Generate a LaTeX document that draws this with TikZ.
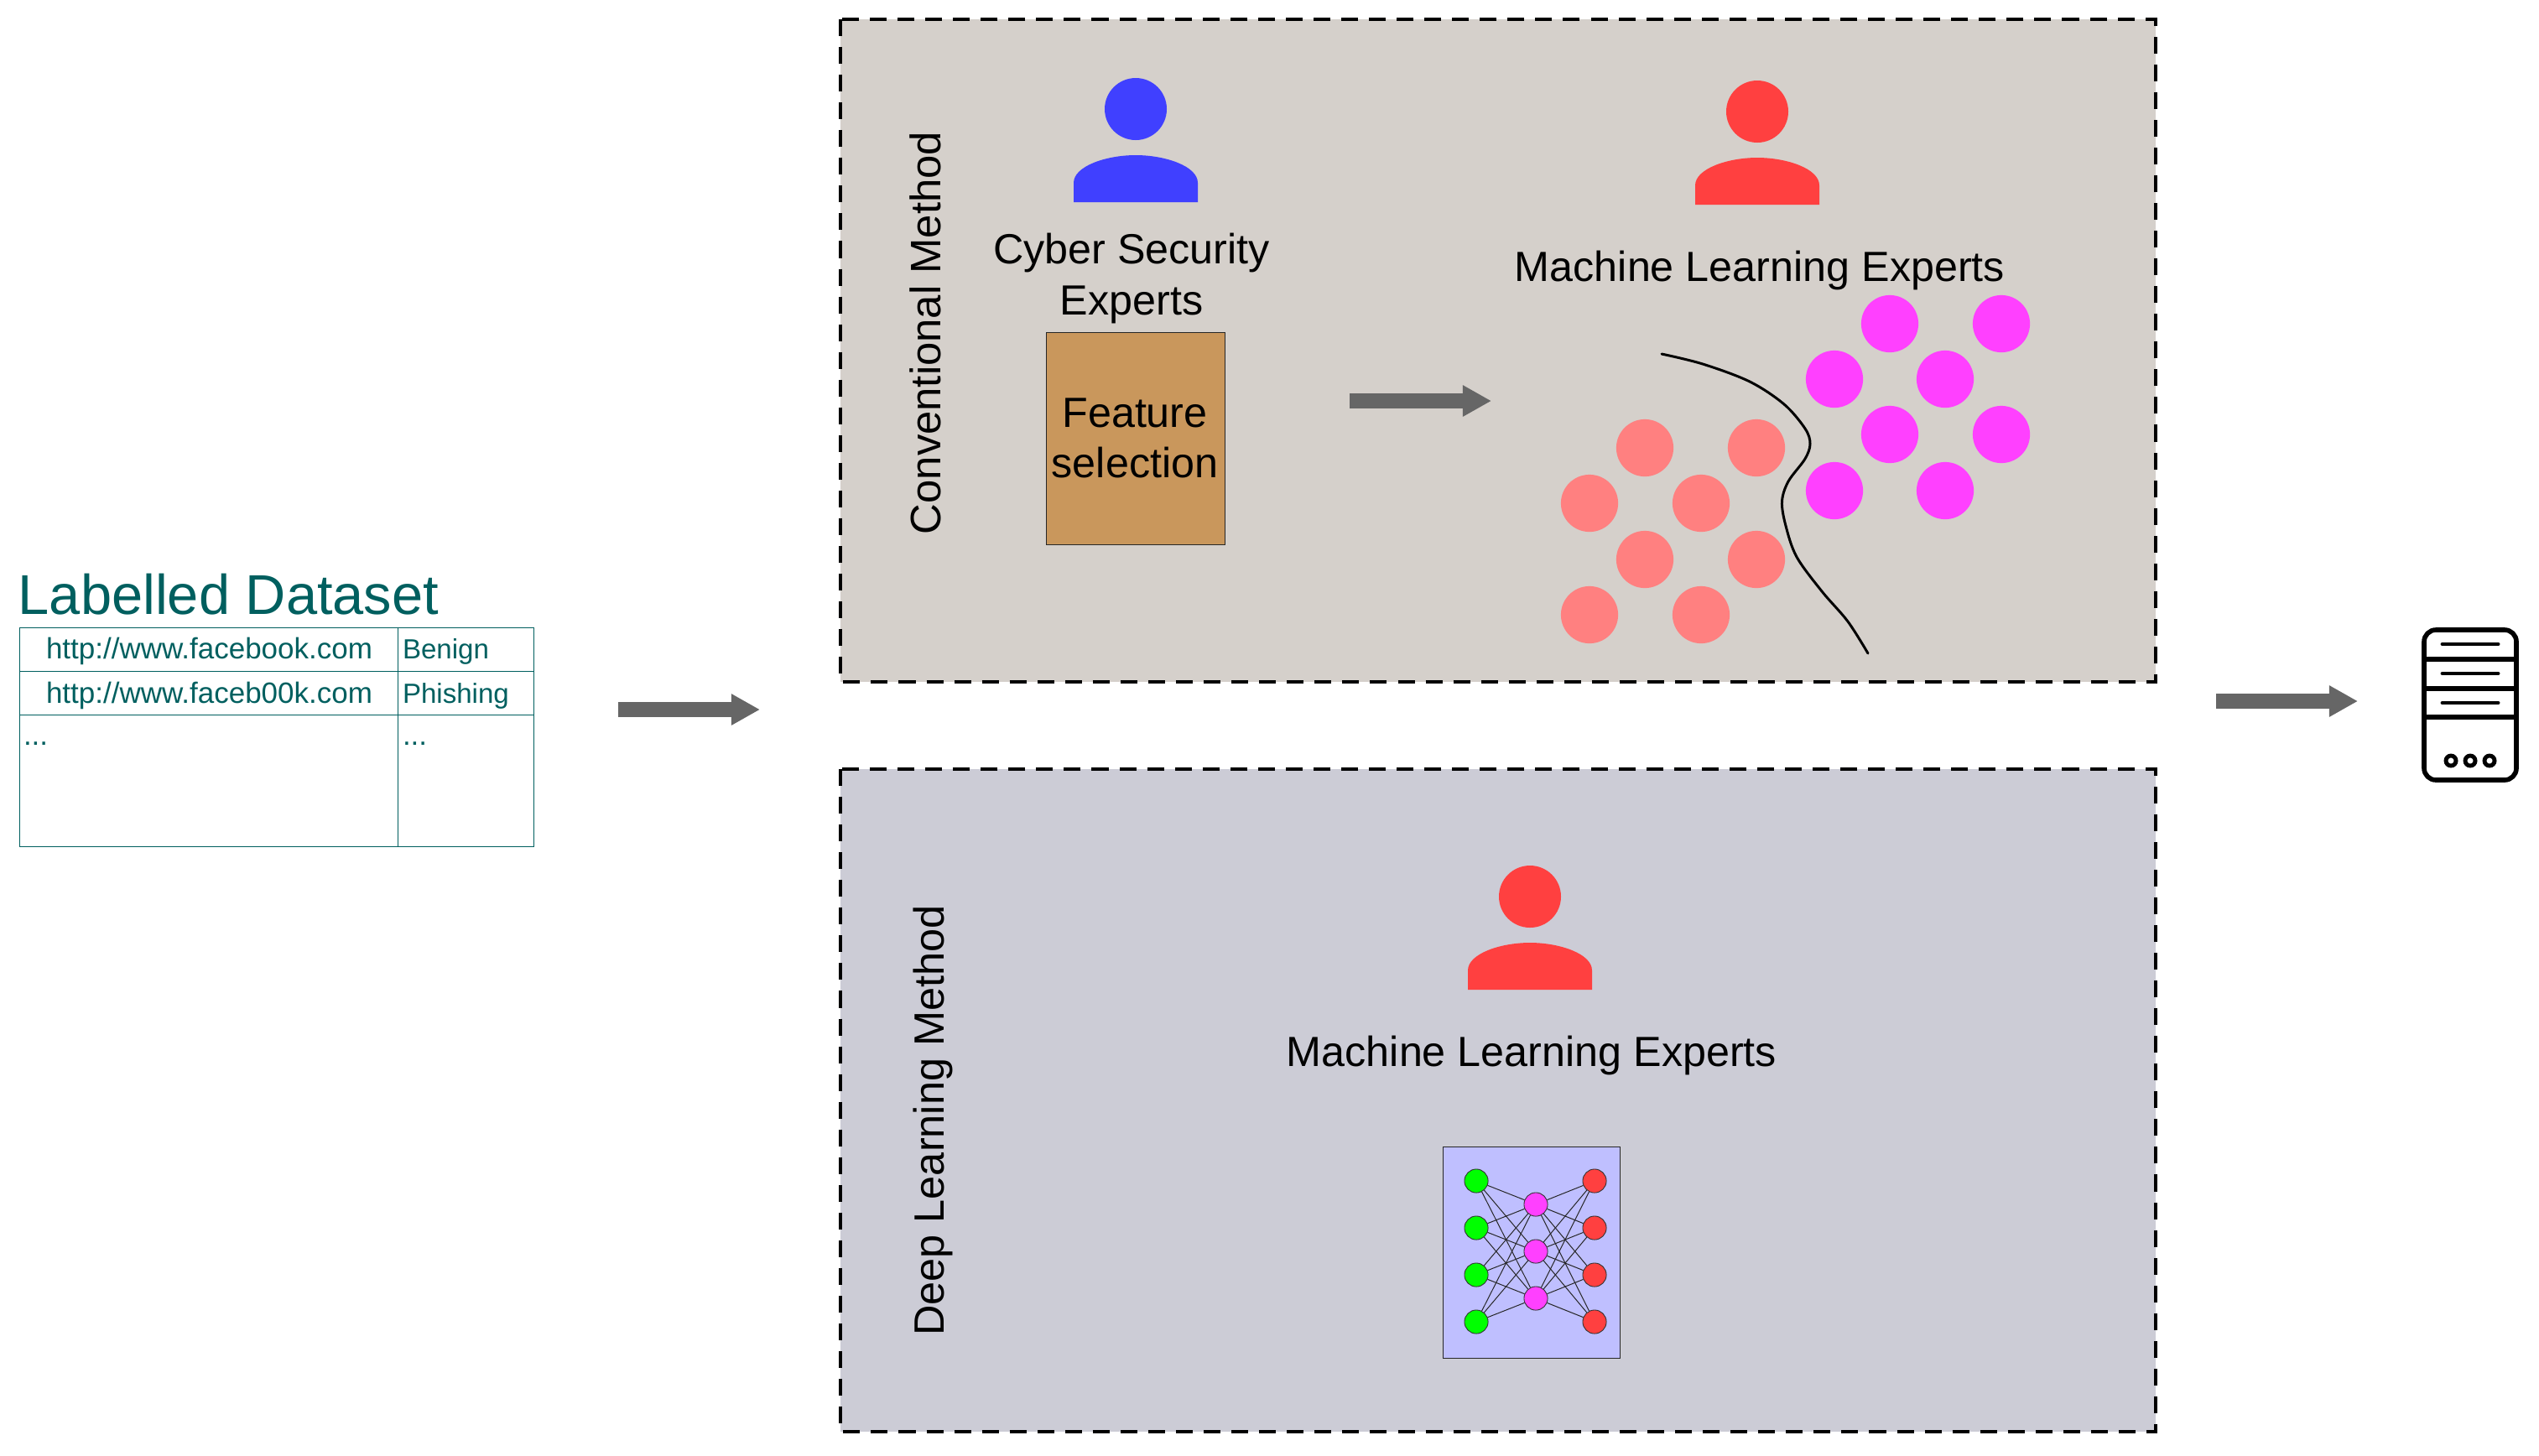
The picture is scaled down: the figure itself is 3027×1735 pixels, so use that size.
\documentclass[tikz,border=0pt]{standalone}
\usepackage{fontspec}
\setmainfont{Liberation Sans}
\usetikzlibrary{arrows.meta}
\definecolor{teal1}{HTML}{005F5F}
\definecolor{blueP}{HTML}{4040FF}
\definecolor{redP}{HTML}{FF4040}
\definecolor{magP}{HTML}{FF40FF}
\definecolor{pinkP}{HTML}{FF8080}
\definecolor{panelA}{HTML}{D5D0CB}
\definecolor{panelB}{HTML}{CCCCD6}
\definecolor{boxF}{HTML}{C9975C}
\definecolor{boxN}{HTML}{BFBFFF}
\definecolor{arrowG}{HTML}{666666}
\tikzset{
  x=0.01cm,y=-0.01cm,
  txt/.style={inner sep=0pt,outer sep=0pt,font=\fontsize{14.3}{17}\selectfont},
  tabtxt/.style={inner sep=0pt,outer sep=0pt,anchor=base west,text=teal1,font=\fontsize{9.95}{12}\selectfont},
  tablab/.style={inner sep=0pt,outer sep=0pt,anchor=base west,text=teal1,font=\fontsize{9.4}{12}\selectfont},
  panel/.style={draw=black,line width=1.3pt,dash pattern=on 5.7pt off 3.7pt},
  bigarrow/.style={draw=arrowG,line width=4.9pt,-{Triangle[length=9.7pt,width=10pt,color=arrowG]}},
  tabline/.style={draw=teal1,line width=0.22pt},
  blob/.style={circle,inner sep=0pt,minimum size=19.4pt,fill=#1},
  nn/.style={circle,inner sep=0pt,minimum size=8pt,draw=black!80,line width=0.25pt,fill=#1},
  nnedge/.style={draw=black!85,line width=0.28pt},
  thinbox/.style={draw=black!85,line width=0.2pt,fill=#1},
  srv/.style={draw=black,line width=1.6pt},
  pics/person/.style={code={
    \fill[#1] (0,0) circle[radius=37];
    \fill[#1] (-74,111) -- (-74,88) .. controls (-74,68) and (-35,55) .. (0,55)
      .. controls (35,55) and (74,68) .. (74,88) -- (74,111) -- cycle;
  }}
}
\begin{document}
\begin{tikzpicture}
\useasboundingbox (0,0) rectangle (3027,1735);
% panels
\path[fill=panelA,panel] (1002,23) rectangle (2570,813);
\path[fill=panelB,panel] (1002,917) rectangle (2570,1707);
\node[txt,rotate=90,anchor=base,font=\fontsize{14.45}{17}\selectfont] (convT) at (1121,397) {Conventional Method};
\node[txt,rotate=90,anchor=base,font=\fontsize{14.35}{17}\selectfont] (deepT) at (1125,1336) {Deep Learning Method};
% dataset
\node[inner sep=0pt,anchor=base west,text=teal1,font=\fontsize{19}{22}\selectfont] (dataT) at (21,732) {Labelled Dataset};
\draw[tabline] (23,748) rectangle (636,1009);
\draw[tabline] (474.5,748) -- (474.5,1009);
\draw[tabline] (23,800) -- (636,800);
\draw[tabline] (23,852) -- (636,852);
\node[tabtxt] (u1) at (55,785) {http://www.facebook.com};
\node[tablab] (l1) at (480,785) {Benign};
\node[tabtxt] (u2) at (55,838) {http://www.faceb00k.com};
\node[tablab] (l2) at (480,838) {Phishing};
\node[tabtxt] (u3) at (28,888) {...};
\node[tabtxt] (l3) at (480,888) {...};
% arrows
\coordinate (a1s) at (737,846); \coordinate (a1e) at (906,846);
\coordinate (a2s) at (1609,478); \coordinate (a2e) at (1778,478);
\coordinate (a3s) at (2642,836); \coordinate (a3e) at (2811,836);
\draw[bigarrow] (a1s) -- (a1e);
\draw[bigarrow] (a2s) -- (a2e);
\draw[bigarrow] (a3s) -- (a3e);
% persons
\pic at (1354,130) {person=blueP};
\pic at (2095,133) {person=redP};
\pic at (1824,1069) {person=redP};
\node[txt,align=center,anchor=base] (cyb) at (1349,375) {Cyber Security\\[0.3pt]Experts};
\node[txt,anchor=base] (ml1) at (2098,335) {Machine Learning Experts};
\node[txt,anchor=base] (ml2) at (1826,1271) {Machine Learning Experts};
% feature box
\draw[thinbox=boxF] (1247,396) rectangle (1460,649);
\node[txt,align=center,anchor=base] (feat) at (1353,569) {Feature\\selection};
% clusters
\foreach \n/\x/\y in {a/2253/386,b/2386/386,c/2187/452,d/2319/452,e/2253/518,f/2386/518,g/2187/585,h/2319/585}
  \node[blob=magP] (m\n) at (\x,\y) {};
\foreach \n/\x/\y in {a/1961/534,b/2094/534,c/1895/600,d/2028/600,e/1961/667,f/2094/667,g/1895/733,h/2028/733}
  \node[blob=pinkP] (p\n) at (\x,\y) {};
\draw[line width=0.85pt,line cap=round] plot[smooth,tension=0.55] coordinates {(1981,422) (2030,434) (2086,455) (2127,482) (2152,511) (2158,529) (2152,547) (2132,574) (2124.5,598) (2129,627) (2142,664) (2172,705) (2203,741) (2227,779)};
% neural net
\draw[thinbox=boxN] (1720,1367) rectangle (1931,1619);
\foreach \i/\y in {1/1408,2/1464,3/1520,4/1576}{
  \node[nn=green] (g\i) at (1760,\y) {};
  \node[nn=redP] (r\i) at (1901,\y) {};
}
\foreach \i/\y in {1/1436,2/1492,3/1548}
  \node[nn=magP] (h\i) at (1831,\y) {};
\foreach \i in {1,2,3,4}\foreach \j in {1,2,3}{
  \draw[nnedge] (g\i) -- (h\j);
  \draw[nnedge] (h\j) -- (r\i);
}
% server
\draw[srv,rounded corners=4pt] (2890,751) rectangle (3000,930);
\draw[srv] (2890,786) -- (3000,786);
\draw[srv] (2890,821) -- (3000,821);
\draw[srv] (2890,855) -- (3000,855);
\foreach \y in {768,803,838} \draw[srv,line cap=round,line width=1.4pt] (2912,\y) -- (2978,\y);
\foreach \x in {2922,2945,2968} \draw[srv,line width=1.4pt] (\x,907) circle[radius=6];
\end{tikzpicture}
\end{document}
